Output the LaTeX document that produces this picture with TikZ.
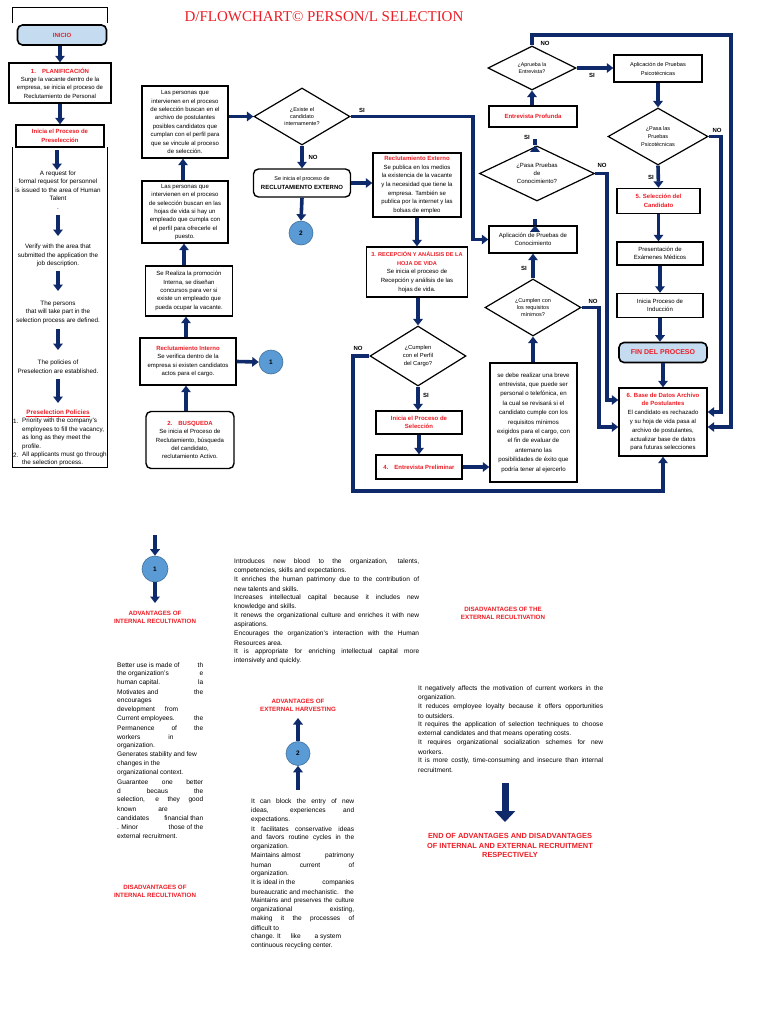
\documentclass[tikz,border=0pt]{standalone}
\usepackage{fontspec}
\setmainfont{Liberation Sans}
\newfontfamily\ttlfont{Liberation Serif}
\usetikzlibrary{arrows.meta,shapes.geometric}
\definecolor{navy}{HTML}{0E2A6A}
\definecolor{rd}{HTML}{EE1C25}
\definecolor{lblue}{HTML}{C5DBF0}
\definecolor{cblue}{HTML}{5B9BD5}
\definecolor{cbord}{HTML}{41719C}
\newcommand\redb[1]{{\color{rd}\bfseries #1}}
\newcommand\myjust[5]{\node[btxt] (#1) at (#2,#3) {\makebox[#4pt][s]{#5}};}
\newcommand\myleft[5][btxt]{\node[#1] (#2) at (#3,#4) {#5};}
\tikzset{
 fbox/.style={draw=black, line width=1.4pt, align=center, inner sep=1pt, font=\fontsize{6}{8.4}\selectfont},
 rbox/.style={fbox, rounded corners=5pt},
 dia/.style={diamond, draw=black, line width=1.2pt, align=center, inner sep=0pt, shape aspect=1.7, font=\fontsize{5.5}{7.4}\selectfont},
 arr/.style={draw=navy, line width=3.6pt, line join=miter, -{Triangle[width=9.5pt,length=6.5pt]}},
 circ/.style={circle, fill=cblue, draw=cbord, line width=0.6pt, minimum size=24pt, inner sep=0pt, font=\bfseries\fontsize{6.5}{7}\selectfont},
 lbl/.style={font=\bfseries\fontsize{6}{7}\selectfont, inner sep=0pt},
 btxt/.style={font=\fontsize{6.6}{8}\selectfont, inner sep=0pt, anchor=west},
 ltxt/.style={font=\fontsize{6.3}{8}\selectfont, inner sep=0pt, anchor=west},
 ctxt/.style={font=\fontsize{6.3}{8.6}\selectfont, inner sep=0pt, align=center},
 hdr/.style={font=\bfseries\fontsize{6.2}{8.2}\selectfont, text=rd, align=center, inner sep=0pt},
}
\begin{document}
\begin{tikzpicture}[x=1pt,y=-1pt]
\useasboundingbox (0,0) rectangle (768,1012);
\fill[white] (0,0) rectangle (768,1012);

% ---------- title
\node[font=\ttlfont\fontsize{15}{18}\selectfont, text=rd, inner sep=0pt] (title) at (324,17) {D/FLOWCHART© PERSON/L SELECTION};

% ---------- left column
\draw[line width=0.8pt] (12,23) -- (12,7.5) -- (107,7.5) -- (107,23);
\node[rbox, fill=lblue, line width=1.6pt, minimum width=89pt, minimum height=20pt] (ini) at (62,35) {\redb{INICIO}};
\node[fbox, minimum width=102pt, minimum height=40pt] (plan) at (60,83) {\redb{1.\quad PLANIFICACIÓN}\\Surge la vacante dentro de la\\empresa, se inicia el proceso de\\Reclutamiento de Personal};
\node[fbox, minimum width=88pt, minimum height=22pt] (pres) at (60,136) {\redb{Inicia el Proceso de}\\\redb{Preselección}};
\draw[arr] (plan.north |- ini.south) -- (plan.north);
\draw[arr] (plan.south) -- (pres.north);
\draw[line width=0.8pt] (12,147) -- (12,467) -- (107,467) -- (107,147);

\node[ctxt] (l1) at (58,190) {A request for\\formal request for personnel\\is issued to the area of Human\\Talent\\.};
\node[ctxt] (l2) at (58,255.5) {Verify with the area that\\submitted the application the\\job description.};
\node[ctxt] (l3) at (58,312) {The persons\\that will take part in the\\selection process are defined.};
\node[ctxt] (l4) at (58,366.5) {The policies of\\Preselection are established.};
\node[ctxt] (l5) at (58,413) {\redb{\underline{Preselection Policies}}};
\coordinate (la1) at (57,150); \coordinate (la2) at (57,170);
\coordinate (la3) at (58,215); \coordinate (la4) at (58,236);
\coordinate (la5) at (58,271); \coordinate (la6) at (58,291);
\coordinate (la7) at (58,329); \coordinate (la8) at (58,350);
\coordinate (la9) at (58,379); \coordinate (la10) at (58,403);
\draw[arr] (la1) -- (la2);
\draw[arr] (la3) -- (la4);
\draw[arr] (la5) -- (la6);
\draw[arr] (la7) -- (la8);
\draw[arr] (la9) -- (la10);
\myleft[ltxt]{p0}{13}{421}{1.}
\myleft[ltxt]{p1}{22}{421}{Priority with the company's}
\myleft[ltxt]{p2}{22}{429.5}{employees to fill the vacancy,}
\myleft[ltxt]{p3}{22}{438}{as long as they meet the}
\myleft[ltxt]{p4}{22}{446.5}{profile.}
\myleft[ltxt]{p5}{13}{455}{2.}
\myleft[ltxt]{p6}{22}{455}{All applicants must go through}
\myleft[ltxt]{p7}{22}{463}{the selection process.}

% ---------- second column
\node[fbox, minimum width=86pt, minimum height=72pt] (pa) at (185,122) {Las personas que\\intervienen en el proceso\\de selección buscan en el\\archivo de postulantes\\posibles candidatos que\\cumplan con el perfil para\\que se vincule al proceso\\de selección.};
\node[fbox, minimum width=86pt, minimum height=62pt] (pa2) at (185,212) {Las personas que\\intervienen en el proceso\\de selección buscan en las\\hojas de vida si hay un\\empleado que cumpla con\\el perfil para ofrecerle el\\puesto.};
\node[fbox, minimum width=87pt, minimum height=50pt] (pa3) at (189,291) {Se Realiza la promoción\\Interna, se diseñan\\concursos para ver si\\existe un empleado que\\pueda ocupar la vacante.};
\node[fbox, minimum width=96pt, minimum height=47pt] (ri) at (188,361.5) {\redb{Reclutamiento Interno}\\Se verifica dentro de la\\empresa si existen candidatos\\actos para el cargo.};
\node[rbox, minimum width=88pt, minimum height=57pt] (bus) at (190,440) {\redb{2.\quad BUSQUEDA}\\Se inicia el Proceso de\\Reclutamiento, búsqueda\\del candidato,\\reclutamiento Activo.};
\node[circ] (c1) at (271,362) {1};
\draw[arr] ([xshift=-4pt]bus.north) -- ([xshift=-4pt]bus.north |- ri.south);
\draw[arr] ([xshift=-2pt]ri.north) -- ([xshift=-2pt]ri.north |- pa3.south);
\draw[arr] ([xshift=-5pt]pa3.north) -- ([xshift=-5pt]pa3.north |- pa2.south);
\draw[arr] ([xshift=-2pt]pa2.north) -- ([xshift=-2pt]pa2.north |- pa.south);
\draw[arr] (ri.east) -- (c1.west);

% ---------- third column
\node[dia, minimum width=96pt, minimum height=57pt] (d1) at (302,116.5) {¿Existe el\\candidato\\internamente?};
\draw[arr] (pa.east |- d1.west) -- (d1.west);
\node[rbox, minimum width=97pt, minimum height=28pt] (ext) at (302,183) {{\fontsize{5.5}{8}\selectfont Se inicia el proceso de}\\\textbf{RECLUTAMIENTO EXTERNO}};
\node[circ] (c2) at (301,233) {2};
\draw[arr] (d1.south) -- (ext.north);
\node[lbl] (no1) at (313,157) {NO};
\draw[arr] (ext.south) -- (c2.north);

\node[fbox, minimum width=88pt, minimum height=64pt, font=\fontsize{6}{8.6}\selectfont] (rext) at (417,185) {\redb{Reclutamiento Externo}\\Se publica en los medios\\la existencia de la vacante\\y la necesidad que tiene la\\empresa. También se\\publica por la internet y las\\bolsas de empleo};
\draw[arr] (ext.east) -- (ext.east -| rext.west);
\node[fbox, minimum width=101pt, minimum height=50pt, font=\fontsize{6}{8.8}\selectfont] (r3) at (417,272) {{\color{rd}\bfseries\fontsize{5.6}{8.8}\selectfont 3. RECEPCIÓN Y ANÁLISIS DE LA}\\{\color{rd}\bfseries\fontsize{5.6}{8.8}\selectfont HOJA DE VIDA}\\Se inicia el proceso de\\Recepción y análisis de las\\hojas de vida.};
\draw[arr] (rext.south) -- (rext.south |- r3.north);
\node[dia, minimum width=96pt, minimum height=60pt, shape aspect=1.6, font=\fontsize{5.8}{7.8}\selectfont] (d2) at (418,356) {¿Cumplen\\con el Perfil\\del Cargo?};
\draw[arr] (r3.south -| d2.north) -- (d2.north);
\node[fbox, minimum width=86pt, minimum height=23pt] (sel) at (419,422.5) {\redb{Inicia el Proceso de}\\\redb{Selección}};
\draw[arr] (d2.south) -- (d2.south |- sel.north);
\node[lbl] (si2) at (426,395) {SI};
\node[fbox, minimum width=86pt, minimum height=24pt] (pre) at (419,467) {\redb{4.\quad Entrevista Preliminar}};
\draw[arr] (sel.south) -- (pre.north);
\node[lbl] (no2) at (358,348) {NO};

% ---------- fourth column
\node[fbox, minimum width=87pt, minimum height=119pt, font=\fontsize{6.1}{9.4}\selectfont] (big) at (533.5,422.5) {se debe realizar una breve\\entrevista, que puede ser\\personal o telefónica, en\\la cual se revisará si el\\candidato cumple con los\\requisitos mínimos\\exigidos para el cargo, con\\el fin de evaluar de\\antemano las\\posibilidades de éxito que\\podría tener al ejercerlo};
\draw[arr] (pre.east) -- (pre.east -| big.west);
\node[dia, minimum width=96pt, minimum height=57pt] (d3) at (533,307.5) {¿Cumplen con\\los requisitos\\mínimos?};
\draw[arr] (big.north -| d3.south) -- (d3.south);
\node[fbox, minimum width=88pt, minimum height=27pt] (apc) at (533,239.5) {Aplicación de Pruebas de\\Conocimiento};
\draw[arr] (d3.north) -- (apc.south);
\node[lbl] (si3) at (524,268) {SI};
\node[lbl] (no3) at (593,301) {NO};
\node[dia, minimum width=115pt, minimum height=55pt, shape aspect=2, font=\fontsize{6}{8}\selectfont] (d4) at (537,173.5) {¿Pasa Pruebas\\de\\Conocimiento?};
\draw[arr] (apc.north -| 535,0) -- (apc.north -| 535,0 |- d4.south);
\node[fbox, minimum width=88pt, minimum height=21pt] (ep) at (533,116.5) {\redb{Entrevista Profunda}};
\draw[arr] (d4.north -| 535,0) -- (d4.north -| 535,0 |- ep.south);
\node[lbl] (si4) at (527,137) {SI};
\node[lbl] (no4) at (602,165) {NO};
\node[dia, minimum width=88pt, minimum height=44pt, font=\fontsize{5.3}{7.4}\selectfont] (d5) at (532,68) {¿Aprueba la\\Entrevista?};
\draw[arr] (ep.north -| d5.south) -- (d5.south);
\node[lbl] (no5) at (545,43) {NO};
\node[lbl] (si5) at (592,75) {SI};

% ---------- fifth column
\node[fbox, minimum width=88pt, minimum height=27pt, font=\fontsize{5.6}{9}\selectfont] (psi) at (658,68.5) {Aplicación de Pruebas\\Psicotécnicas};
\draw[arr] (d5.east) -- (d5.east -| psi.west);
\node[dia, minimum width=100pt, minimum height=57pt, font=\fontsize{5.5}{8}\selectfont] (d6) at (658,136.5) {¿Pasa las\\Pruebas\\Psicotécnicas};
\draw[arr] (psi.south) -- (d6.north);
\node[lbl] (no6) at (717,130) {NO};
\node[fbox, minimum width=83pt, minimum height=25pt] (s5) at (658.5,201) {\redb{5. Selección del}\\\redb{Candidato}};
\draw[arr] (d6.south) -- (s5.north);
\node[lbl] (si6) at (651,177) {SI};
\node[fbox, minimum width=86pt, minimum height=23pt] (em) at (660,253.5) {Presentación de\\Exámenes Médicos};
\draw[arr] (s5.south) -- (s5.south |- em.north);
\node[fbox, minimum width=86pt, minimum height=24pt] (ind) at (660,305.5) {Inicia Proceso de\\Inducción};
\draw[arr] (em.south) -- (ind.north);
\node[rbox, fill=lblue, line width=1.6pt, minimum width=88pt, minimum height=20pt, font=\fontsize{7}{8}\selectfont] (fin) at (663,352.5) {\redb{FIN DEL PROCESO}};
\draw[arr] (ind.south) -- (ind.south |- fin.north);
\node[fbox, minimum width=88pt, minimum height=68pt, font=\fontsize{6}{8.8}\selectfont] (bd) at (663,422) {\redb{6. Base de Datos Archivo}\\\redb{de Postulantes}\\El candidato es rechazado\\y su hoja de vida pasa al\\archivo de postulantes,\\actualizar base de datos\\para futuras selecciones};
\draw[arr] (fin.south) -- (bd.north);

% ---------- loop connectors
\node[lbl] (si1) at (362,110) {SI};
\coordinate (k1) at (473,116.5);
\draw[arr] (d1.east) -- (k1) |- (apc.west);
\coordinate (k2a) at (353,356);
\coordinate (k2b) at (353,491);
\draw[arr] (d2.west) -- (k2a) -- (k2b) -| (bd.south);
\coordinate (k3) at (599,307.5);
\draw[arr] (d3.east) -- (k3) |- ([yshift=-5pt]bd.west);
\coordinate (k4) at (607,173.5);
\draw[arr] (d4.east) -- (k4) |- ([yshift=22pt]bd.west);
\coordinate (k6) at (721,136.5);
\draw[arr] (d6.east) -- (k6) |- ([yshift=10pt]bd.east);
\coordinate (k5a) at (532,35);
\coordinate (k5b) at (731,35);
\draw[arr] (d5.north) -- (k5a) -- (k5b) |- ([yshift=-5pt]bd.east);

% ---------- bottom: internal
\coordinate (ba1) at (155,535);
\node[circ, minimum size=26pt] (b1) at (155,569) {1};
\coordinate (ba2) at (155,603);
\draw[arr] (ba1) -- (b1.north);
\draw[arr] (b1.south) -- (ba2);
\node[hdr] (h1) at (155,617) {ADVANTAGES OF\\INTERNAL RECULTIVATION};
\node[hdr] (h2) at (155,891) {DISADVANTAGES OF\\INTERNAL RECULTIVATION};

\myjust{q1}{117}{665}{86}{Better use is made of\hfill th}
\myjust{q2}{117}{674}{86}{the organization's\hfill e}
\myjust{q3}{117}{683}{86}{human capital.\hfill la}
\myjust{q4}{117}{692}{86}{Motivates and\hfill the}
\myleft{q5}{117}{701}{encourages}
\myleft{q6}{117}{710}{development\hspace{10pt}from}
\myjust{q7}{117}{719}{86}{Current employees.\hfill the}
\myjust{q8}{117}{728}{86}{Permanence of the}
\myleft{q9}{117}{737}{workers\hspace{28pt}in}
\myleft{q10}{117}{746}{organization.}
\myleft{q11}{117}{755}{Generates stability and few}
\myleft{q12}{117}{764}{changes in the}
\myleft{q13}{117}{773}{organizational context.}
\myjust{q14}{117}{782}{86}{Guarantee one better}
\myjust{q15}{117}{791}{86}{d becaus the}
\myjust{q16}{117}{800}{86}{selection, e they good}
\myleft{q17}{117}{809}{known\hspace{22pt}are}
\myjust{q18}{117}{818}{86}{candidates\hfill financial than}
\myjust{q19}{117}{827}{86}{. Minor\hfill those of the}
\myleft{q20}{117}{836}{external recruitment.}

% ---------- bottom: external advantages
\myjust{m1}{234}{562}{185}{Introduces new blood to the organization, talents,}
\myleft{m2}{234}{571}{competencies, skills and expectations.}
\myjust{m3}{234}{580}{185}{It enriches the human patrimony due to the contribution of}
\myleft{m4}{234}{589}{new talents and skills.}
\myjust{m5}{234}{598}{185}{Increases intellectual capital because it includes new}
\myleft{m6}{234}{607}{knowledge and skills.}
\myjust{m7}{234}{616}{185}{It renews the organizational culture and enriches it with new}
\myleft{m8}{234}{625}{aspirations.}
\myjust{m9}{234}{634}{185}{Encourages the organization's interaction with the Human}
\myleft{m10}{234}{643}{Resources area.}
\myjust{m11}{234}{652}{185}{It is appropriate for enriching intellectual capital more}
\myleft{m12}{234}{661}{intensively and quickly.}

\node[hdr] (h3) at (298,705) {ADVANTAGES OF\\EXTERNAL HARVESTING};
\node[circ] (b2) at (298,753.5) {2};
\coordinate (bb1) at (298,790);
\coordinate (bb2) at (298,718);
\draw[arr] (bb1) -- (b2.south);
\draw[arr] (b2.north) -- (bb2);

\myjust{r1}{251}{802}{103}{It can block the entry of new}
\myjust{r2}{251}{811}{103}{ideas, experiences and}
\myleft{r3}{251}{820}{expectations.}
\myjust{r4}{251}{829}{103}{It facilitates conservative ideas}
\myjust{r5}{251}{838}{103}{and favors routine cycles in the}
\myleft{r6}{251}{847}{organization.}
\myjust{r7}{251}{856}{103}{Maintains almost\hfill patrimony}
\myjust{r8}{251}{865}{103}{human current of}
\myleft{r9}{251}{874}{organization.}
\myjust{r10}{251}{883}{103}{It is ideal in the\hfill companies}
\myleft{r11}{251}{892}{bureaucratic and mechanistic.}
\node[btxt, anchor=east] (r10b) at (354,892) {the};
\node[btxt, font=\fontsize{6.3}{8}\selectfont] (r12) at (251,901) {\makebox[103pt][s]{Maintains and preserves the culture}};
\myjust{r13}{251}{910}{103}{organizational\hfill existing,}
\myjust{r14}{251}{919}{103}{making it the processes of}
\myleft{r15}{251}{928}{difficult to}
\myleft{r16}{251}{937}{change. It\hspace{10pt}like\hspace{14pt}a system}
\myleft{r17}{251}{946}{continuous recycling center.}

% ---------- bottom: external disadvantages
\node[hdr] (h4) at (503,613) {DISADVANTAGES OF THE\\EXTERNAL RECULTIVATION};
\myjust{s1}{418}{689}{185}{It negatively affects the motivation of current workers in the}
\myleft{s2}{418}{698}{organization.}
\myjust{s3}{418}{707}{185}{It reduces employee loyalty because it offers opportunities}
\myleft{s4}{418}{716}{to outsiders.}
\myjust{s5}{418}{725}{185}{It requires the application of selection techniques to choose}
\myleft{s6}{418}{734}{external candidates and that means operating costs.}
\myjust{s7}{418}{743}{185}{It requires organizational socialization schemes for new}
\myleft{s8}{418}{752}{workers.}
\myjust{s9}{418}{761}{185}{It is more costly, time-consuming and insecure than internal}
\myleft{s10}{418}{770}{recruitment.}

\coordinate (be1) at (505,783);
\coordinate (be2) at (505,822);
\draw[draw=navy, line width=7pt, -{Triangle[width=20pt,length=11pt]}] (be1) -- (be2);
\node[hdr, font=\bfseries\fontsize{7.4}{9.6}\selectfont] (h5) at (510,845.5) {END OF ADVANTAGES AND DISADVANTAGES\\OF INTERNAL AND EXTERNAL RECRUITMENT\\RESPECTIVELY};
\end{tikzpicture}
\end{document}
